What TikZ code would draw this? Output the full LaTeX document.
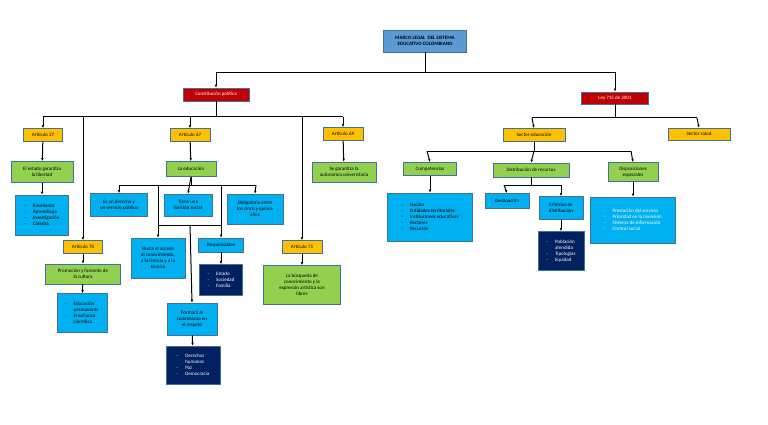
\documentclass[tikz,border=0pt]{standalone}
\usepackage{fontspec}
\setmainfont{Carlito}
\usepackage{tikz}
\usetikzlibrary{arrows.meta,positioning,calc}
\definecolor{tblue}{HTML}{5B9BD5}
\definecolor{cred}{HTML}{C00000}
\definecolor{cyel}{HTML}{FFC000}
\definecolor{cgrn}{HTML}{92D050}
\definecolor{ccyan}{HTML}{00B0F0}
\definecolor{cnavy}{HTML}{002060}
\definecolor{cedge}{HTML}{41719C}
\newcommand{\lst}[1]{\begin{tabular}{@{}l@{\hspace{7pt}}l@{}}#1\end{tabular}}

\begin{document}
\begin{tikzpicture}[x=1pt, y=-1pt,
  box/.style={draw=cedge, line width=0.6pt, inner sep=1pt,
              font=\fontsize{5}{6}\selectfont, align=center},
  ttl/.style={box, fill=tblue, font=\fontsize{5}{6}\selectfont\bfseries},
  law/.style={box, fill=cred, text=white},
  art/.style={box, fill=cyel},
  idea/.style={box, fill=cgrn},
  info/.style={box, fill=ccyan},
  deep/.style={box, fill=cnavy, text=white},
  arr/.style={-{Latex[length=3pt,width=2.5pt]}, line width=1pt},
  ln/.style={line width=1pt},
]
  \useasboundingbox (0,0) rectangle (768,425);

  % Title and laws
  \node[ttl, minimum width=83, minimum height=22] (title) at (425,41)
    {MARCO LEGAL \ DEL SISTEMA\\EDUCATIVO COLOMBIANO};
  \node[law, minimum width=66, minimum height=13] (cons) at (216,94.5) {Constitución política};
  \node[law, minimum width=67, minimum height=12] (ley) at (615,98) {Ley 715 de 2001};

  % Constitución branch
  \node[art, minimum width=39, minimum height=13] (a27) at (43,135) {Artículo 27};
  \node[art, minimum width=40, minimum height=13] (a67) at (190,135) {Artículo 67};
  \node[art, minimum width=40, minimum height=13] (a69) at (343,134) {Artículo 69};
  \node[art, minimum width=39, minimum height=13] (a70) at (83,247) {Artículo 70};
  \node[art, minimum width=40, minimum height=13] (a71) at (302,247) {Artículo 71};

  \node[idea, minimum width=62, minimum height=21] (libertad) at (42,172)
    {El estado garantiza\\la libertad};
  \node[info, minimum width=53, minimum height=40] (ensena) at (42,215)
    {\lst{-&Enseñanza\\-&Aprendizaje\\-&Investigación\\-&Cátedra}};
  \node[idea, minimum width=75, minimum height=20] (cultura) at (83,274)
    {Promoción y fomento de\\la cultura};
  \node[info, minimum width=50, minimum height=39] (perma) at (82,313)
    {\lst{-&Educación\\&permanente\\-&Enseñanza\\&científica}};
  \node[idea, minimum width=64, minimum height=20] (autonomia) at (344,172)
    {Se garantiza la\\autonomía universitaria};
  \node[idea, minimum width=77, minimum height=39] (busqueda) at (302,285)
    {La búsqueda de\\conocimiento y la\\expresión artística son\\libres};

  \node[idea, minimum width=50, minimum height=15] (educa) at (191,169) {La educación};
  \node[info, minimum width=57, minimum height=23] (derecho) at (119,205)
    {Es un derecho y\\un servicio público};
  \node[info, minimum width=48, minimum height=22] (funcion) at (188,205)
    {Tiene una\\función social};
  \node[info, minimum width=56, minimum height=30] (oblig) at (255,209)
    {Obligatoria entre\\los cinco y quince\\años};
  \node[info, minimum width=54, minimum height=40] (busca) at (158,258)
    {Busca el acceso\\al conocimiento,\\a la ciencia y a la\\técnica};
  \node[info, minimum width=45, minimum height=14] (resp) at (221,245) {Responsables};
  \node[deep, minimum width=43, minimum height=31] (estado) at (221,280)
    {\lst{-&Estado\\-&Sociedad\\-&Familia}};
  \node[info, minimum width=50, minimum height=32] (formara) at (192,319)
    {Formará al\\colombiano en\\el respeto};
  \node[deep, minimum width=54, minimum height=38] (dhum) at (193,365)
    {\lst{-&Derechos\\&humanos\\-&Paz\\-&Democracia}};

  % Ley 715 branch
  \node[art, minimum width=62, minimum height=13] (seduc) at (534,135) {Sector educación};
  \node[art, minimum width=62, minimum height=12] (ssalud) at (699,134) {Sector salud};
  \node[idea, minimum width=53, minimum height=13] (compe) at (430,169) {Competencias};
  \node[idea, minimum width=76, minimum height=14] (distri) at (531,170) {Distribución de recursos};
  \node[idea, minimum width=50, minimum height=19] (dispo) at (633,172)
    {Disposiciones\\especiales};
  \node[info, minimum width=85, minimum height=48] (nacion) at (430,217)
    {\lst{-&Nación\\-&Entidades territoriales\\-&Instituciones educativas\\-&Rectores\\-&Recursos}};
  \node[info, minimum width=44, minimum height=15] (destino) at (507,201) {Destinación};
  \node[info, minimum width=44, minimum height=23] (criter) at (561,208)
    {Criterios de\\distribución};
  \node[deep, minimum width=46, minimum height=39] (pobla) at (561,251)
    {\lst{-&Población\\&atendida\\-&Tipologías\\-&Equidad}};
  \node[info, minimum width=85, minimum height=46, text=white] (presta) at (633,220)
    {\lst{-&Prestación del servicio\\-&Prioridad en la inversión\\-&Sistema de información\\-&Control social}};

  % Junctions
  \coordinate (jtop) at (425,73);
  \coordinate (jcL) at (43,117);
  \coordinate (jcR) at (343,117);
  \coordinate (jeL) at (119,185);
  \coordinate (jeR) at (256,185);
  \coordinate (jmid) at (190,225);
  \coordinate (jlL) at (532,118);
  \coordinate (jlR) at (697,118);
  \coordinate (jsL) at (427,151);
  \coordinate (jsR) at (631,151);
  \coordinate (jdL) at (504,185);
  \coordinate (jdR) at (561,185);

  % Connectors
  \draw[ln] (title.south) -- (jtop);
  \draw[arr] (jtop) -| (cons.north);
  \draw[arr] (jtop) -| (ley.north);

  \draw[ln] (cons.south) -- (cons.south |- jcL);
  \draw[ln] (jcL) -- (jcR);
  \draw[arr] (jcL) -- (a27.north);
  \draw[arr] (jcL -| a67) -- (a67.north);
  \draw[arr] (jcR) -- (a69.north);
  \draw[arr] (jcL -| a70) -- (a70.north);
  \draw[arr] (jcL -| a71) -- (a71.north);
  \draw[arr] (a27) -- (libertad);
  \draw[arr] (libertad) -- (ensena);
  \draw[arr] (a70) -- (cultura);
  \draw[arr] (cultura) -- (perma);
  \draw[arr] (a69) -- (autonomia);
  \draw[arr] (a71) -- (busqueda);
  \draw[arr] (a67) -- (educa);

  \draw[ln] (educa.south) -- (educa.south |- jeL);
  \draw[ln] (jeL) -- (jeR);
  \draw[arr] (jeL) -- (derecho.north);
  \draw[arr] (educa.south) -- (funcion.north);
  \draw[arr] (jeR) -- (oblig.north);
  \draw[ln] (jeL -| busca) |- (jmid);
  \draw[ln] (jeL -| resp) |- (jmid);
  \draw[arr] (jmid -| busca) -- (busca.north);
  \draw[arr] (jmid -| resp) -- (resp.north);
  \draw[arr] (jmid) -- (formara.north);
  \draw[arr] (resp) -- (estado);
  \draw[arr] (formara) -- (dhum);

  \draw[ln] (ley.south) -- (ley.south |- jlL);
  \draw[ln] (jlL) -- (jlR);
  \draw[arr] (jlL) -- (seduc.north);
  \draw[arr] (jlR) -- (ssalud.north);
  \draw[ln] (seduc.south) -- (seduc.south |- jsL);
  \draw[ln] (jsL) -- (jsR);
  \draw[arr] (jsL) -- (compe.north);
  \draw[arr] (seduc.south |- jsL) -- (distri.north);
  \draw[arr] (jsR) -- (dispo.north);
  \draw[arr] (compe) -- (nacion);
  \draw[arr] (dispo) -- (presta);
  \draw[ln] (distri.south) -- (distri.south |- jdL);
  \draw[ln] (jdL) -- (jdR);
  \draw[arr] (jdL) -- (destino.north);
  \draw[arr] (jdR) -- (criter.north);
  \draw[arr] (criter) -- (pobla);
\end{tikzpicture}
\end{document}
